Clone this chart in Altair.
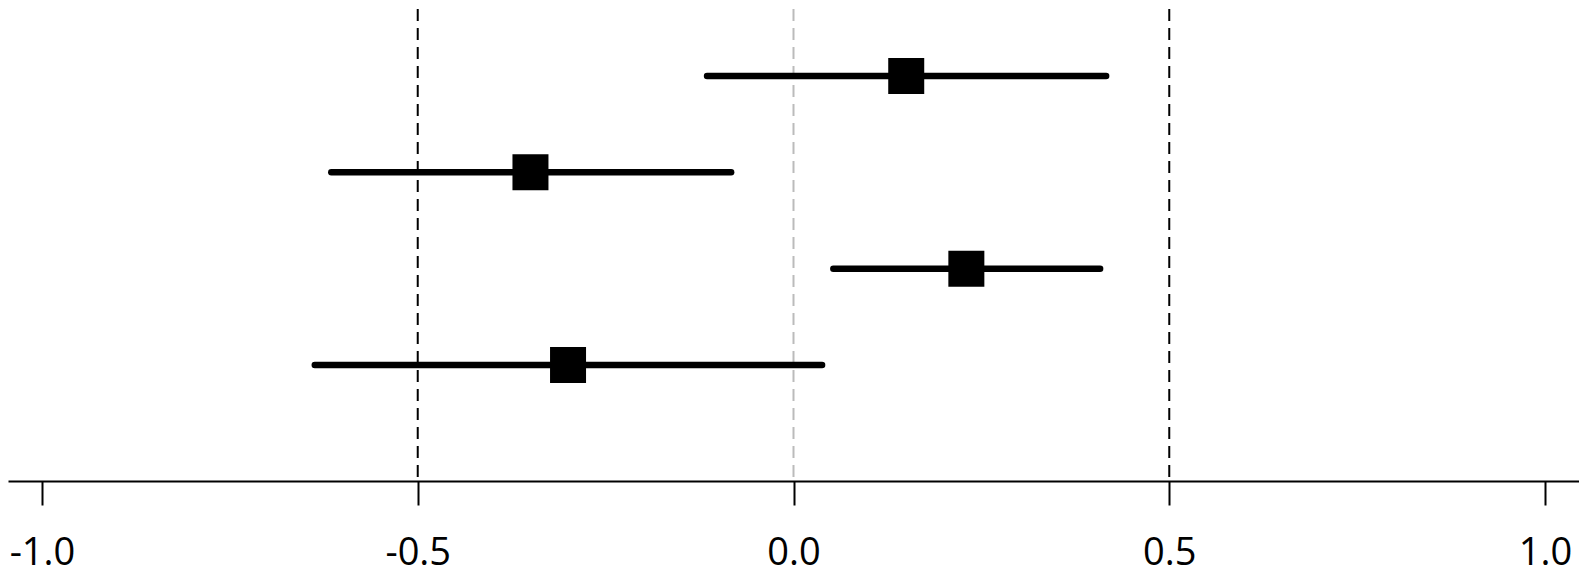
import altair as alt
import pandas as pd

rows = [1, 2, 3, 4]
estimate = [0.150, -0.350, 0.230, -0.300]
lower = [-0.115, -0.615, 0.053, -0.637]
upper = [0.416, -0.083, 0.408, 0.038]

ref_values = [-0.5, 0.0, 0.5]
ref_colors = ["#000000", "#bbbbbb", "#000000"]

df = pd.DataFrame({"row": rows, "est": estimate, "lo": lower, "hi": upper})
ref = pd.DataFrame({"v": ref_values, "c": ref_colors})

xscale = alt.Scale(domain=[-1.0452, 1.0452], nice=False, zero=False)
yscale = alt.Scale(domain=[0.3045, 5.2045], reverse=True, nice=False, zero=False)

xaxis = alt.Axis(
    values=[-1.0, -0.5, 0.0, 0.5, 1.0], title=None,
    labelExpr="datum.value < 0 ? '-' + format(abs(datum.value), '.1f') : format(datum.value, '.1f')",
    grid=False, domainColor="black", domainWidth=2, tickColor="black",
    tickWidth=2, tickSize=24, labelFont="Open Sans", labelFontSize=38,
    labelColor="black", labelPadding=29, labelFlush=False,
)

refs = alt.Chart(ref).mark_rule(strokeDash=[12, 7], strokeWidth=2).encode(
    x=alt.X("v:Q", scale=xscale, axis=xaxis),
    color=alt.Color("c:N", scale=None),
)

bars = alt.Chart(df).mark_rule(strokeWidth=6.5, strokeCap="round", color="black").encode(
    x=alt.X("lo:Q", scale=xscale),
    x2="hi:Q",
    y=alt.Y("row:Q", scale=yscale, axis=None),
)

pts = alt.Chart(df).mark_square(size=1296, color="black", opacity=1, filled=True).encode(
    x=alt.X("est:Q", scale=xscale),
    y=alt.Y("row:Q", scale=yscale, axis=None),
)

chart = (refs + bars + pts).properties(
    width=1571, height=472, padding=0, background="white"
).configure_view(stroke=None, strokeWidth=0)

chart.save("out.html", embed_options={"renderer": "svg", "actions": False})
